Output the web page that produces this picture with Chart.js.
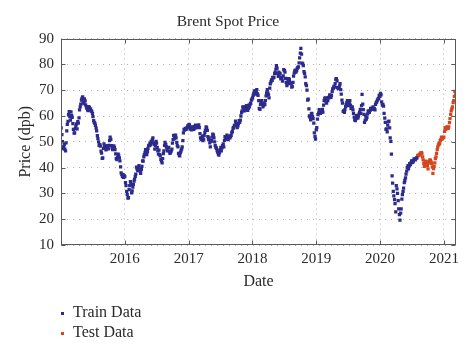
<!DOCTYPE html>
<html>
<head>
<meta charset="utf-8">
<script src="https://cdn.jsdelivr.net/npm/chart.js@4.4.1/dist/chart.umd.min.js"></script>
<style>
html,body{margin:0;padding:0;background:#fff;}
canvas{display:block;}
</style>
</head>
<body>
<canvas id="c" width="474" height="355"></canvas>
<script>
// ---- text ----
const chartTitle = 'Brent Spot Price';
const xTitle = 'Date';
const yTitle = 'Price (dpb)';
const seriesNames = ['Train Data', 'Test Data'];

// ---- prices (USD per barrel) ----
// Friday readings (one per week) starting at trainStart
const trainStart = '2015-01-02';
const fri2015 = [55.4, 50.1, 48.0, 47.2, 49.6, 56.8, 60.5, 59.8, 61.6, 59.5,
  54.8, 53.5, 56.2, 55.0, 57.2, 62.4, 64.6, 66.8, 65.4, 66.6,
  64.3, 63.0, 62.1, 63.2, 62.8, 61.8, 59.8, 57.5, 56.4, 54.2,
  51.2, 48.6, 48.3, 45.6, 43.8, 49.2, 47.5, 47.4, 47.8, 48.6,
  51.8, 48.5, 47.0, 48.4, 47.0, 43.5, 44.0, 44.7, 42.6, 38.0,
  36.5, 36.2];
const fri2016 = [36.5, 33.0, 29.5, 28.4, 33.0, 33.5, 31.0, 33.5, 35.5, 37.5,
  39.5, 40.0, 39.5, 37.8, 40.5, 42.5, 45.0, 47.0, 45.0, 47.5,
  48.5, 48.8, 49.8, 51.5, 49.0, 48.5, 49.5, 46.5, 46.8, 44.5,
  42.5, 43.5, 46.5, 49.8, 48.0, 46.5, 47.8, 45.5, 46.5, 49.5,
  52.5, 51.8, 51.5, 48.5, 45.5, 44.5, 46.5, 48.0, 53.5, 54.5,
  54.8, 55.5, 55.8];
const fri2017 = [56.5, 55.5, 55.0, 55.5, 56.0, 56.5, 55.5, 56.0, 55.5, 51.5,
  51.5, 50.5, 52.5, 54.5, 55.5, 52.0, 51.5, 48.0, 50.5, 53.0,
  51.5, 48.5, 47.5, 46.0, 44.8, 47.0, 46.5, 48.5, 48.0, 52.0,
  51.5, 52.0, 51.5, 51.5, 52.5, 54.0, 55.5, 56.5, 57.0, 55.5,
  57.0, 57.5, 60.0, 62.0, 63.5, 62.0, 63.5, 63.0, 63.0, 63.5,
  65.0, 66.5];
const fri2018 = [68.0, 69.5, 68.5, 70.2, 68.0, 63.0, 64.5, 66.0, 63.5, 65.0,
  66.0, 69.0, 69.0, 67.0, 72.5, 74.0, 75.0, 75.0, 77.0, 79.5,
  76.5, 77.0, 76.5, 75.0, 73.5, 78.0, 77.0, 73.0, 72.5, 74.5,
  73.0, 72.5, 71.5, 75.5, 77.5, 77.0, 78.5, 79.0, 82.5, 86.2,
  80.5, 79.5, 76.5, 72.5, 70.0, 66.5, 60.0, 58.5, 61.0, 59.0,
  53.5, 51.0];
const fri2019 = [55.5, 60.5, 62.5, 61.0, 61.5, 61.5, 66.0, 67.0, 65.0, 66.0,
  67.0, 67.5, 68.0, 70.5, 71.5, 72.5, 74.5, 71.0, 71.0, 72.5,
  68.5, 65.0, 62.0, 62.5, 64.5, 66.0, 64.0, 66.0, 63.0, 63.5,
  61.0, 58.5, 59.0, 59.5, 60.0, 61.5, 61.0, 68.4, 62.5, 57.5,
  60.0, 59.5, 62.0, 61.5, 63.0, 63.0, 63.5, 63.0, 64.5, 65.5,
  66.5, 68.0];
const fri2020 = [68.8, 65.5, 64.5, 61.0, 57.5, 55.0, 56.5, 58.0, 51.5, 45.2,
  34.0, 29.0, 26.0, 33.0, 30.0, 24.0, 19.6, 24.0, 29.5, 32.0,
  35.0, 37.5, 40.0, 39.5, 41.5, 41.8, 42.5, 42.6, 43.2, 43.5];
// Tuesday readings (the Tuesday after each Friday above)
const tue2015 = [52.8, 47.4, 48.9, 46.5, 54.2, 57.9, 61.7, 58.4, 60.2, 57.0,
  53.4, 55.1, 56.9, 57.8, 59.3, 63.5, 66.2, 67.4, 64.8, 65.9,
  63.5, 62.4, 63.6, 62.5, 62.0, 61.0, 58.2, 57.1, 55.3, 52.4,
  50.0, 48.9, 46.4, 43.6, 47.5, 48.3, 46.9, 48.5, 47.3, 50.5,
  50.9, 47.6, 47.9, 47.8, 45.3, 43.1, 45.2, 43.8, 40.3, 37.4,
  37.3, 36.8];
const tue2016 = [34.2, 30.8, 28.2, 31.5, 34.6, 30.2, 32.4, 34.8, 36.6, 40.2,
  38.8, 40.8, 38.6, 39.2, 42.6, 44.2, 45.8, 45.6, 46.2, 48.6,
  49.5, 50.2, 50.8, 49.6, 47.2, 50.2, 47.8, 45.2, 45.0, 43.2,
  41.8, 45.4, 48.6, 49.0, 47.2, 47.6, 46.2, 46.0, 47.2, 50.8,
  51.2, 52.6, 49.8, 48.0, 44.8, 45.8, 47.2, 50.5, 54.8, 55.2,
  55.0, 56.2, 56.8];
const tue2017 = [54.9, 54.6, 55.8, 54.8, 55.4, 55.9, 56.2, 56.6, 53.2, 50.8,
  52.2, 51.0, 53.6, 55.8, 54.4, 50.8, 49.6, 50.2, 51.8, 52.6,
  50.0, 47.8, 46.6, 45.2, 45.8, 47.8, 47.6, 49.2, 50.6, 51.0,
  52.6, 50.8, 52.2, 52.0, 53.6, 55.2, 56.2, 58.0, 56.4, 56.2,
  58.2, 58.4, 61.4, 63.4, 62.8, 62.6, 64.0, 62.2, 64.2, 64.6,
  66.2, 67.0];
const tue2018 = [68.8, 69.8, 69.4, 68.6, 66.0, 62.6, 65.4, 64.6, 64.2, 64.4,
  67.8, 70.2, 68.2, 70.8, 73.2, 73.8, 74.8, 76.4, 78.2, 78.6,
  75.4, 76.2, 74.4, 74.6, 75.6, 77.6, 74.6, 71.8, 73.8, 74.2,
  72.6, 71.2, 73.0, 76.6, 77.8, 77.6, 78.8, 80.6, 84.4, 84.0,
  80.2, 77.2, 75.2, 71.8, 66.2, 62.8, 59.4, 60.8, 59.8, 57.2,
  52.0, 54.6];
const tue2019 = [58.8, 61.2, 61.6, 61.4, 62.6, 64.2, 66.8, 65.6, 66.2, 67.2,
  68.2, 67.2, 69.4, 70.8, 71.2, 74.2, 73.6, 70.6, 71.6, 70.2,
  66.2, 61.8, 61.4, 63.6, 65.2, 65.0, 64.8, 64.2, 63.2, 62.4,
  59.6, 58.2, 60.2, 59.2, 60.8, 62.6, 64.0, 64.6, 60.6, 58.4,
  58.8, 60.8, 61.4, 62.2, 62.6, 62.8, 62.6, 62.4, 65.2, 66.2,
  66.8, 67.6];
const tue2020 = [68.2, 64.2, 63.8, 59.2, 54.8, 53.8, 57.8, 55.4, 50.2, 36.8,
  30.8, 27.6, 22.8, 31.8, 27.2, 21.8, 22.4, 27.8, 30.8, 34.2,
  36.0, 38.6, 40.8, 40.6, 41.2, 42.6, 42.0, 43.4, 43.0, 43.8];
// test period: starts the Friday after the last training week
const testFri = [43.8, 44.8, 45.0, 45.2, 45.5, 43.0, 40.5, 42.5, 41.5, 39.5,
  42.5, 42.8, 41.5, 37.8, 40.5, 43.5, 45.5, 48.0, 49.5, 50.5,
  51.8, 51.5, 51.8, 55.5, 55.2, 55.6, 55.8, 59.0, 62.0, 63.5,
  66.0, 69.5];
const testTue = [44.6, 44.6, 45.6, 45.8, 44.2, 41.6, 41.8, 42.2, 40.8, 41.8,
  43.0, 42.2, 40.2, 39.6, 41.8, 44.2, 47.0, 48.8, 49.2, 50.8,
  51.0, 51.6, 54.0, 54.8, 55.8, 55.2, 57.4, 60.6, 62.8, 65.2,
  67.6, 68.2];

// ---- ticks ----
const yearTicks = [2016, 2017, 2018, 2019, 2020, 2021];
const priceTicks = [10, 20, 30, 40, 50, 60, 70, 80, 90];

const TRAIN_COLOR = '#2c2a8c';
const TEST_COLOR = '#d4461e';
const FONT = '"Liberation Serif", "Times New Roman", serif';
const TEXT_COLOR = '#2a2a2a';
const DAY = 86400000;

function toDecYear(ms) {
  const d = new Date(ms);
  const y = d.getUTCFullYear();
  const s = Date.UTC(y, 0, 1), e = Date.UTC(y + 1, 0, 1);
  return y + (ms - s) / (e - s);
}
function weekly(startMs, values, dayOffset) {
  return values.map((v, i) => ({ x: toDecYear(startMs + (i * 7 + dayOffset) * DAY), y: v }));
}
const trainFri = [].concat(fri2015, fri2016, fri2017, fri2018, fri2019, fri2020);
const trainTue = [].concat(tue2015, tue2016, tue2017, tue2018, tue2019, tue2020);
const trainStartMs = Date.parse(trainStart + 'T00:00:00Z');
const testStartMs = trainStartMs + trainFri.length * 7 * DAY;
const trainPoints = weekly(trainStartMs, trainFri, 0).concat(weekly(trainStartMs, trainTue, 4));
const testPoints = weekly(testStartMs, testFri, 0).concat(weekly(testStartMs, testTue, 4));

const frame = {
  id: 'frame',
  afterDraw(chart) {
    const { ctx, chartArea: a, scales: { x, y } } = chart;
    ctx.save();
    ctx.strokeStyle = '#5a5a5a';
    ctx.lineWidth = 1;
    const L = Math.round(a.left) + 0.5, R = Math.round(a.right) - 0.5;
    const T = Math.round(a.top) + 0.5, B = Math.round(a.bottom) - 0.5;
    ctx.beginPath();
    yearTicks.forEach(v => {
      const px = Math.round(x.getPixelForValue(v)) + 0.5;
      ctx.moveTo(px, B); ctx.lineTo(px, B - 4);
      ctx.moveTo(px, T); ctx.lineTo(px, T + 4);
    });
    priceTicks.forEach(v => {
      const py = Math.round(y.getPixelForValue(v)) + 0.5;
      ctx.moveTo(L, py); ctx.lineTo(L + 4, py);
      ctx.moveTo(R, py); ctx.lineTo(R - 4, py);
    });
    ctx.stroke();
    ctx.strokeRect(L, T, R - L, B - T);

    // legend (below the x axis, left aligned)
    const ds = chart.data.datasets;
    ctx.font = '16px ' + FONT;
    ctx.textBaseline = 'middle';
    ctx.textAlign = 'left';
    ds.forEach((d, i) => {
      const ly = x.bottom + 20 + i * 20;
      ctx.fillStyle = d.backgroundColor;
      ctx.fillRect(a.left, ly - 1, 3, 3);
      ctx.fillStyle = TEXT_COLOR;
      ctx.fillText(d.label, a.left + 12, ly);
    });
    ctx.restore();
  }
};

new Chart(document.getElementById('c'), {
  type: 'scatter',
  data: {
    datasets: [
      { label: seriesNames[0], data: trainPoints, backgroundColor: TRAIN_COLOR, borderColor: TRAIN_COLOR,
        pointStyle: 'rect', pointRadius: 2.3, borderWidth: 0 },
      { label: seriesNames[1], data: testPoints, backgroundColor: TEST_COLOR, borderColor: TEST_COLOR,
        pointStyle: 'rect', pointRadius: 2.3, borderWidth: 0 }
    ]
  },
  options: {
    responsive: false,
    animation: false,
    devicePixelRatio: 1,
    layout: { padding: { left: 0, right: 18, top: 0, bottom: 62 } },
    plugins: {
      title: { display: true, text: chartTitle, color: TEXT_COLOR,
        font: { family: FONT, size: 15.5, weight: 'normal' }, padding: { top: 13, bottom: 7 } },
      legend: { display: false },
      tooltip: { enabled: false }
    },
    scales: {
      x: {
        type: 'linear', min: 2015, max: 2021.19,
        afterBuildTicks: s => { s.ticks = yearTicks.map(v => ({ value: v })); },
        afterFit: s => { s.height = 48; },
        ticks: { callback: v => String(v), color: TEXT_COLOR, font: { family: FONT, size: 15 },
          padding: 5, maxRotation: 0, autoSkip: false },
        grid: { color: '#b4b4b4', lineWidth: 1, drawTicks: false },
        border: { display: false, dash: [1, 4] },
        title: { display: true, text: xTitle, color: TEXT_COLOR, font: { family: FONT, size: 16 },
          padding: { top: 5, bottom: 2 } }
      },
      y: {
        min: 10, max: 90,
        afterBuildTicks: s => { s.ticks = priceTicks.map(v => ({ value: v })); },
        afterFit: s => { s.width = 61; },
        ticks: { color: TEXT_COLOR, font: { family: FONT, size: 15 }, padding: 7 },
        grid: { color: '#b4b4b4', lineWidth: 1, drawTicks: false },
        border: { display: false, dash: [1, 5] },
        title: { display: true, text: yTitle, color: TEXT_COLOR, font: { family: FONT, size: 16 },
          padding: { top: 16, bottom: 0 } }
      }
    }
  },
  plugins: [frame]
});
</script>
</body>
</html>
